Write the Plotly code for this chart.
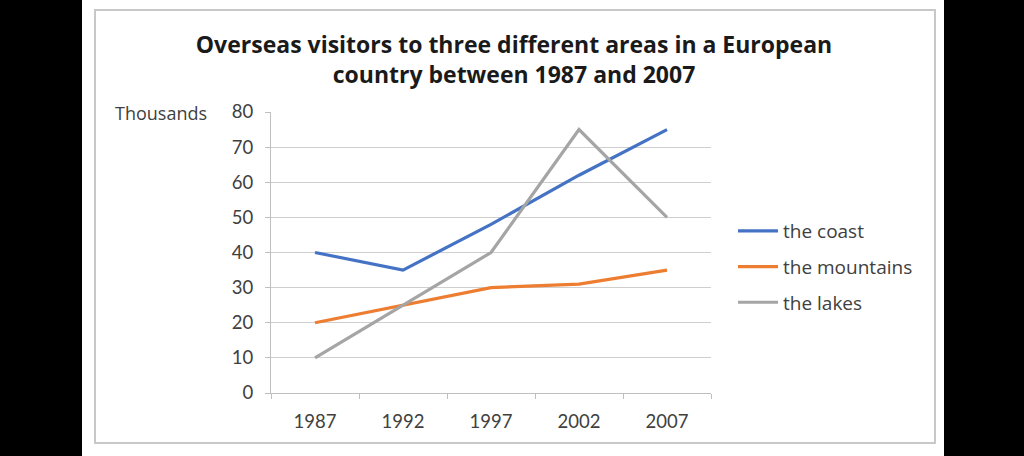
import plotly.graph_objects as go

years = ["1987", "1992", "1997", "2002", "2007"]
coast = [40, 35, 48, 62, 75]
mountains = [20, 25, 30, 31, 35]
lakes = [10, 25, 40, 75, 50]
series_names = ["the coast", "the mountains", "the lakes"]
colors = ["#4472C4", "#ED7D31", "#A5A5A5"]
y_ticks = [0, 10, 20, 30, 40, 50, 60, 70, 80]

L, R, T, B = 271, 313, 112, 63
W, H = 1024, 456
pw, ph = W - L - R, H - T - B

def px(x):
    return (x - L) / pw

def py(y):
    return (H - B - y) / ph

fig = go.Figure()
for i, (name, vals) in enumerate(zip(series_names, [coast, mountains, lakes])):
    fig.add_trace(go.Scatter(
        x=years, y=vals, mode="lines", name=name,
        line=dict(color=colors[i], width=3.2),
        legendgroup=name,
    ))

tickfont = dict(family="Lato, Carlito, sans-serif", size=18.5, color="#404040")
roundfont = dict(family="Open Sans, sans-serif", size=18, color="#404040")

fig.update_layout(
    width=W, height=H,
    margin=dict(l=L, r=R, t=T, b=B, autoexpand=False),
    paper_bgcolor="white", plot_bgcolor="white",
    title=dict(
        text="<b>Overseas visitors to three different areas in a European<br>country between 1987 and 2007</b>",
        x=px(514), xref="paper", xanchor="center",
        y=1 - 53 / H, yref="container", yanchor="top",
        font=dict(family="Open Sans, sans-serif", size=23, color="#1a1a1a"),
    ),
    xaxis=dict(
        type="category", tickson="boundaries", showgrid=False,
        range=[-0.5, 4.5],
        showline=True, linecolor="#bfbfbf", linewidth=1,
        ticks="outside", ticklen=5, tickcolor="#bfbfbf",
        tickfont=tickfont, fixedrange=True, ticklabelstandoff=12,
    ),
    yaxis=dict(
        range=[0, 80], tickvals=y_ticks, showgrid=True, gridcolor="#cfcfcf", gridwidth=1,
        showline=True, linecolor="#bfbfbf", linewidth=1,
        ticks="outside", ticklen=5, tickcolor="#bfbfbf",
        tickfont=tickfont, zeroline=False, ticklabelstandoff=8,
    ),
    legend=dict(
        x=px(733), y=py(212), xanchor="left", yanchor="top",
        font=dict(family="Open Sans, sans-serif", size=19, color="#404040"),
        tracegroupgap=8, itemwidth=40, bgcolor="rgba(0,0,0,0)",
    ),
    showlegend=True,
)

fig.add_annotation(
    text="Thousands", xref="paper", yref="paper",
    x=px(209), y=py(113), xanchor="right", yanchor="middle",
    showarrow=False, font=roundfont,
)

# black side bars and gray frame
fig.add_shape(type="rect", xref="paper", yref="paper",
              x0=px(0), x1=px(82), y0=py(H), y1=py(0),
              fillcolor="black", line=dict(width=0))
fig.add_shape(type="rect", xref="paper", yref="paper",
              x0=px(944), x1=px(W), y0=py(H), y1=py(0),
              fillcolor="black", line=dict(width=0))
fig.add_shape(type="rect", xref="paper", yref="paper",
              x0=px(95), x1=px(935), y0=py(443), y1=py(10),
              fillcolor="rgba(0,0,0,0)", line=dict(color="#c8c8c8", width=2))

fig.write_html("out.html")
